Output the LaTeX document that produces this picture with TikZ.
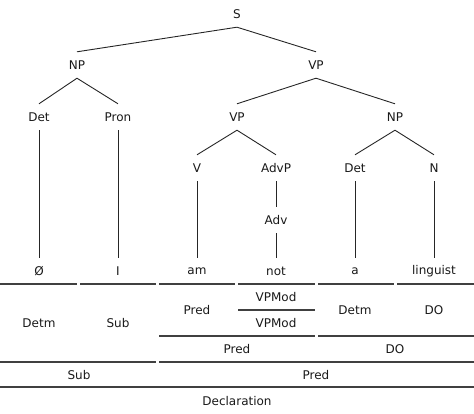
\documentclass[tikz,border=0pt]{standalone}
\usepackage{fontspec}
\setmainfont{DejaVu Sans}
\begin{document}
\begin{tikzpicture}[x=1pt,y=-1pt,
  lab/.style={inner sep=0pt,minimum height=26pt,minimum width=10pt,font=\fontsize{12}{14}\selectfont,text=black!90},
  cell/.style={inner sep=0pt,font=\fontsize{12}{14}\selectfont,text=black!90},
  edge/.style={line width=0.9pt,draw=black!85},
  rule/.style={line width=1.1pt,draw=black!75}]
\useasboundingbox (0,0) rectangle (474,414);
% tree nodes
\node[lab] (S) at (237,14) {S};
\node[lab] (NP) at (77,65) {NP};
\node[lab] (VP) at (316,65) {VP};
\node[lab] (Det) at (39,117) {Det};
\node[lab] (Pron) at (118,117) {Pron};
\node[lab] (VPb) at (237,117) {VP};
\node[lab] (NPb) at (395,117) {NP};
\node[lab] (V) at (197,168) {V};
\node[lab] (AdvP) at (276,168) {AdvP};
\node[lab] (Detb) at (355,168) {Det};
\node[lab] (N) at (434,168) {N};
\node[lab] (Adv) at (276,220) {Adv};
% leaves
\node[lab] (l1) at (39,271) {Ø};
\node[lab] (l2) at (118,271) {I};
\node[lab] (l3) at (197,271) {am};
\node[lab] (l4) at (276,271) {not};
\node[lab] (l5) at (355,271) {a};
\node[lab] (l6) at (434,271) {linguist};
% edges
\draw[edge] (S.south) -- (NP.north);
\draw[edge] (S.south) -- (VP.north);
\draw[edge] (NP.south) -- (Det.north);
\draw[edge] (NP.south) -- (Pron.north);
\draw[edge] (VP.south) -- (VPb.north);
\draw[edge] (VP.south) -- (NPb.north);
\draw[edge] (VPb.south) -- (V.north);
\draw[edge] (VPb.south) -- (AdvP.north);
\draw[edge] (NPb.south) -- (Detb.north);
\draw[edge] (NPb.south) -- (N.north);
\draw[edge] (Det.south) -- (l1.north);
\draw[edge] (Pron.south) -- (l2.north);
\draw[edge] (V.south) -- (l3.north);
\draw[edge] (AdvP.south) -- (Adv.north);
\draw[edge] (Adv.south) -- (l4.north);
\draw[edge] (Detb.south) -- (l5.north);
\draw[edge] (N.south) -- (l6.north);
% table rules
\draw[rule] (0,284) -- (77,284);
\draw[rule] (80,284) -- (156,284);
\draw[rule] (159,284) -- (235,284);
\draw[rule] (238,284) -- (315,284);
\draw[rule] (318,284) -- (394,284);
\draw[rule] (397,284) -- (474,284);
\draw[rule] (238,310) -- (315,310);
\draw[rule] (159,336) -- (315,336);
\draw[rule] (318,336) -- (474,336);
\draw[rule] (0,362) -- (156,362);
\draw[rule] (159,362) -- (474,362);
\draw[rule] (0,387) -- (474,387);
% table cells
\node[cell] (c1) at (39,323) {Detm};
\node[cell] (c2) at (118,323) {Sub};
\node[cell] (c3) at (197,310) {Pred};
\node[cell] (c4) at (276,297) {VPMod};
\node[cell] (c5) at (276,323) {VPMod};
\node[cell] (c6) at (355,310) {Detm};
\node[cell] (c7) at (434,310) {DO};
\node[cell] (c8) at (237,349) {Pred};
\node[cell] (c9) at (395,349) {DO};
\node[cell] (c10) at (79,375) {Sub};
\node[cell] (c11) at (316,375) {Pred};
\node[cell] (c12) at (237,401) {Declaration};
\end{tikzpicture}
\end{document}
